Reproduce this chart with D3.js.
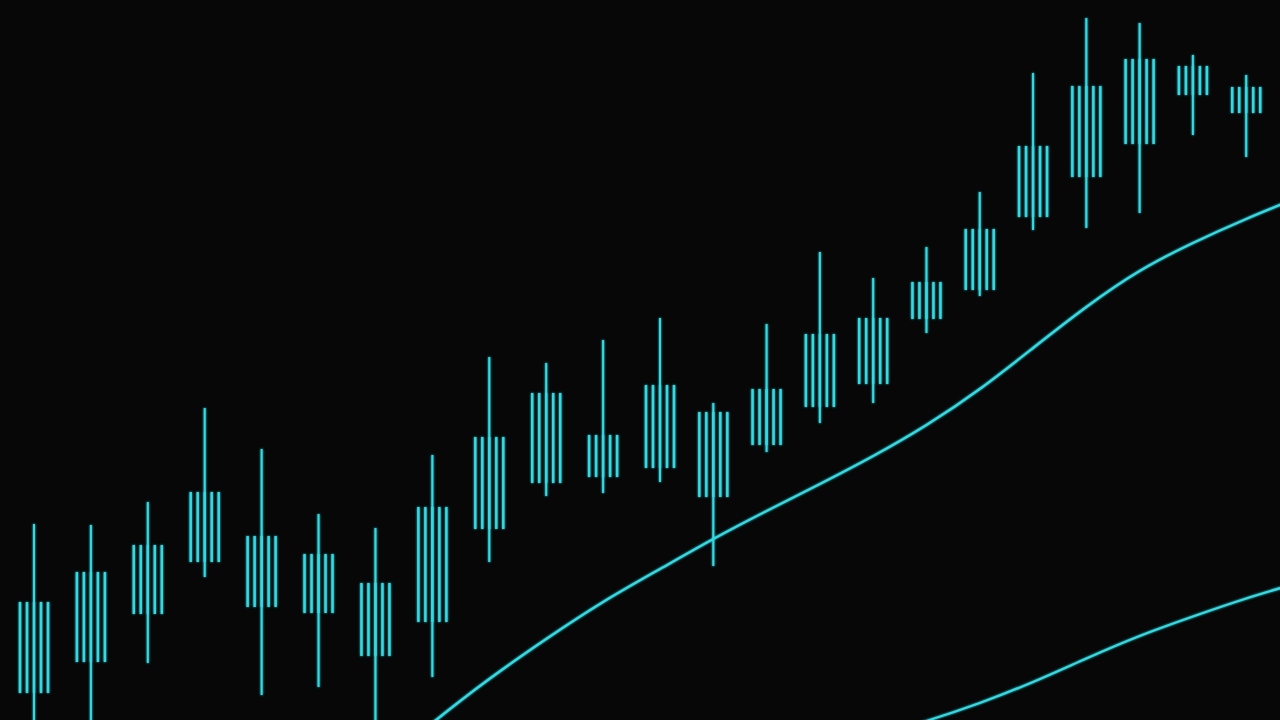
<!DOCTYPE html>
<html>
<head>
<meta charset="utf-8">
<script src="https://cdn.jsdelivr.net/npm/d3@7"></script>
<style>
html,body{margin:0;padding:0;background:#070707;overflow:hidden;}
svg{display:block;}
</style>
</head>
<body>
<svg id="chart" width="1280" height="720"></svg>
<script>
// Candle index (0..22)
const candles = d3.range(23);
const opens  = [2.7, 5.8, 10.6, 15.8, 11.3, 10.7, 6.4, 9.8, 19.1, 23.7, 24.3, 25.2, 22.3, 27.5, 31.3, 33.6, 40.1, 43.0, 50.3, 54.3, 57.6, 62.5, 60.7];
const closes = [11.8, 14.8, 17.5, 22.8, 18.4, 16.6, 13.7, 21.3, 28.3, 32.7, 28.5, 33.5, 30.8, 33.1, 38.6, 40.2, 43.8, 49.1, 57.4, 63.4, 66.1, 65.4, 63.3];
const highs  = [19.6, 19.5, 21.8, 31.2, 27.1, 20.6, 19.2, 26.5, 36.3, 35.7, 38.0, 40.2, 31.7, 39.6, 46.8, 44.2, 47.3, 52.8, 64.7, 70.2, 69.7, 66.5, 64.5];
const lows   = [-1.5, -1.5, 5.7, 14.3, 2.5, 3.3, -1.5, 4.3, 15.8, 22.4, 22.7, 23.8, 15.4, 26.8, 29.7, 31.7, 38.7, 42.4, 49.0, 49.2, 50.7, 58.5, 56.3];

// Moving averages (index, value)
const ma1Index = [6, 7, 8, 9, 10, 11, 12, 13, 14, 15, 16, 17, 18, 19, 20, 21, 22, 23];
const ma1Vals  = [-5.0, -0.3, 4.1, 8.1, 11.8, 15.1, 18.1, 20.9, 23.6, 26.4, 29.5, 33.1, 37.2, 41.3, 44.9, 47.7, 50.1, 52.3];
const ma2Index = [15, 16, 17, 18, 19, 20, 21, 22, 23];
const ma2Vals  = [-1.7, -0.1, 1.7, 3.8, 6.15, 8.4, 10.35, 12.15, 13.75];

const W = 1280, H = 720;
const color = "#33dbe4";
const svg = d3.select("#chart");
svg.append("rect").attr("width", W).attr("height", H).attr("fill", "#070707");

const defs = svg.append("defs");
const glow = defs.append("filter").attr("id", "glow").attr("x", "-50%").attr("y", "-10%").attr("width", "200%").attr("height", "120%");
glow.append("feGaussianBlur").attr("in", "SourceGraphic").attr("stdDeviation", 1.2).attr("result", "b");
const merge = glow.append("feMerge");
merge.append("feMergeNode").attr("in", "b");
merge.append("feMergeNode").attr("in", "SourceGraphic");

// slight perspective: candles a little wider apart on the left
const x = d3.scaleLinear().domain([0, 11, 22]).range([34, 660, 1246.2]);
const y = d3.scaleLinear().domain([0, 72]).range([720, 0]);

const g = svg.append("g").attr("filter", "url(#glow)");

// Moving average lines
const line = d3.line().x(d => x(d[0])).y(d => y(d[1])).curve(d3.curveNatural);
g.append("path").datum(d3.zip(ma1Index, ma1Vals)).attr("d", line)
  .attr("fill", "none").attr("stroke", color).attr("stroke-width", 2.3);
g.append("path").datum(d3.zip(ma2Index, ma2Vals)).attr("d", line)
  .attr("fill", "none").attr("stroke", color).attr("stroke-width", 2.3);

// Candles
const stripeOffsets = [-14, -7, 0, 7, 14];
const cg = g.selectAll("g.candle").data(candles).join("g").attr("class", "candle");
cg.append("line")
  .attr("x1", i => x(i)).attr("x2", i => x(i))
  .attr("y1", i => y(highs[i])).attr("y2", i => y(lows[i]))
  .attr("stroke", color).attr("stroke-width", 2);
cg.each(function(i) {
  const top = y(Math.max(opens[i], closes[i]));
  const bot = y(Math.min(opens[i], closes[i]));
  d3.select(this).selectAll("line.stripe").data(stripeOffsets).join("line")
    .attr("class", "stripe")
    .attr("x1", o => x(i) + o).attr("x2", o => x(i) + o)
    .attr("y1", top).attr("y2", bot)
    .attr("stroke", color).attr("stroke-width", 2.4);
});
</script>
</body>
</html>
